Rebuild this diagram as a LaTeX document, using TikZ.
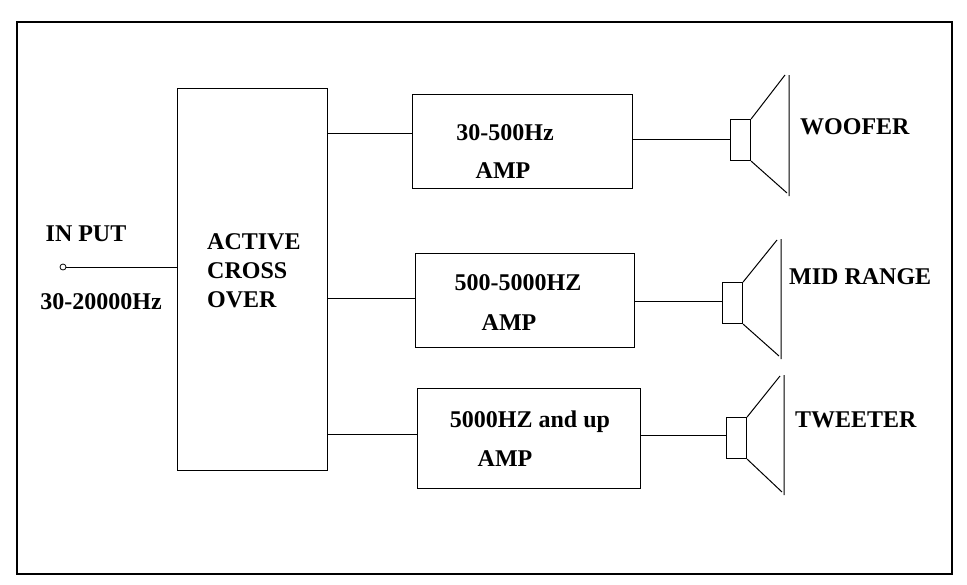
\documentclass[tikz,border=0pt]{standalone}
\usepackage{fontspec}
\setmainfont{Liberation Serif}
\begin{document}
\begin{tikzpicture}[x=1pt,y=-1pt,
  blk/.style={draw,line width=1.1pt,inner sep=0pt,anchor=north west},
  lbl/.style={font=\bfseries\fontsize{24}{29}\selectfont,inner sep=0pt},
  wire/.style={line width=1pt}]
\useasboundingbox (0,0) rectangle (967,584);
%Outer frame
\draw [line width=1.1pt] (17,22) rectangle (952,574);

%Crossover and amplifiers
\node [blk,minimum width=150pt,minimum height=382pt] (xover) at (177,88) {};
\node [blk,minimum width=220pt,minimum height=94pt] (amp1) at (412,94) {};
\node [blk,minimum width=219pt,minimum height=94pt] (amp2) at (415,253) {};
\node [blk,minimum width=223pt,minimum height=100pt] (amp3) at (417,388) {};

%Speakers
\node [blk,minimum width=20pt,minimum height=41pt] (spk1) at (730,119) {};
\node [blk,minimum width=20pt,minimum height=41pt] (spk2) at (722,282) {};
\node [blk,minimum width=20pt,minimum height=41pt] (spk3) at (726,417) {};
\draw [wire] (spk1.north east) -- (785,75) (spk1.south east) -- (787,193) (789,75) -- (789,196);
\draw [wire] (spk2.north east) -- (777,240) (spk2.south east) -- (779,356) (781,239) -- (781,359);
\draw [wire] (spk3.north east) -- (780,376) (spk3.south east) -- (782,492) (784,375) -- (784,495);

%Input
\node [draw,circle,line width=0.8pt,minimum size=6pt,inner sep=0pt] (in) at (63,267) {};
\draw [wire] (in) -- (in -| xover.west);

%Connections
\draw [wire] (327,133) -- (amp1.west |- 0,133);
\draw [wire] (327,298) -- (amp2.west |- 0,298);
\draw [wire] (327,434) -- (amp3.west |- 0,434);
\draw [wire] (amp1.east |- 0,139) -- (spk1.west |- 0,139);
\draw [wire] (amp2.east |- 0,301) -- (spk2.west |- 0,301);
\draw [wire] (amp3.east |- 0,435) -- (spk3.west |- 0,435);

% Text Nodes
\node [lbl] (inlbl) at (86,234) {IN PUT};
\node [lbl] (inrng) at (101,302) {30-20000Hz};
\node [lbl,anchor=west,align=left] (xlbl) at (207,271) {ACTIVE\\CROSS\\OVER};
\node [lbl] (a1a) at (505,133) {30-500Hz};
\node [lbl] (a1b) at (503,171) {AMP};
\node [lbl] (a2a) at (518,283) {500-5000HZ};
\node [lbl] (a2b) at (509,323) {AMP};
\node [lbl] (a3a) at (530,422) {5000HZ and up};
\node [lbl] (a3b) at (505,459) {AMP};
\node [lbl,anchor=west] (woof) at (800,127) {WOOFER};
\node [lbl,anchor=west] (mid) at (789,277) {MID RANGE};
\node [lbl,anchor=west] (twt) at (795,420) {TWEETER};
\end{tikzpicture}
\end{document}
